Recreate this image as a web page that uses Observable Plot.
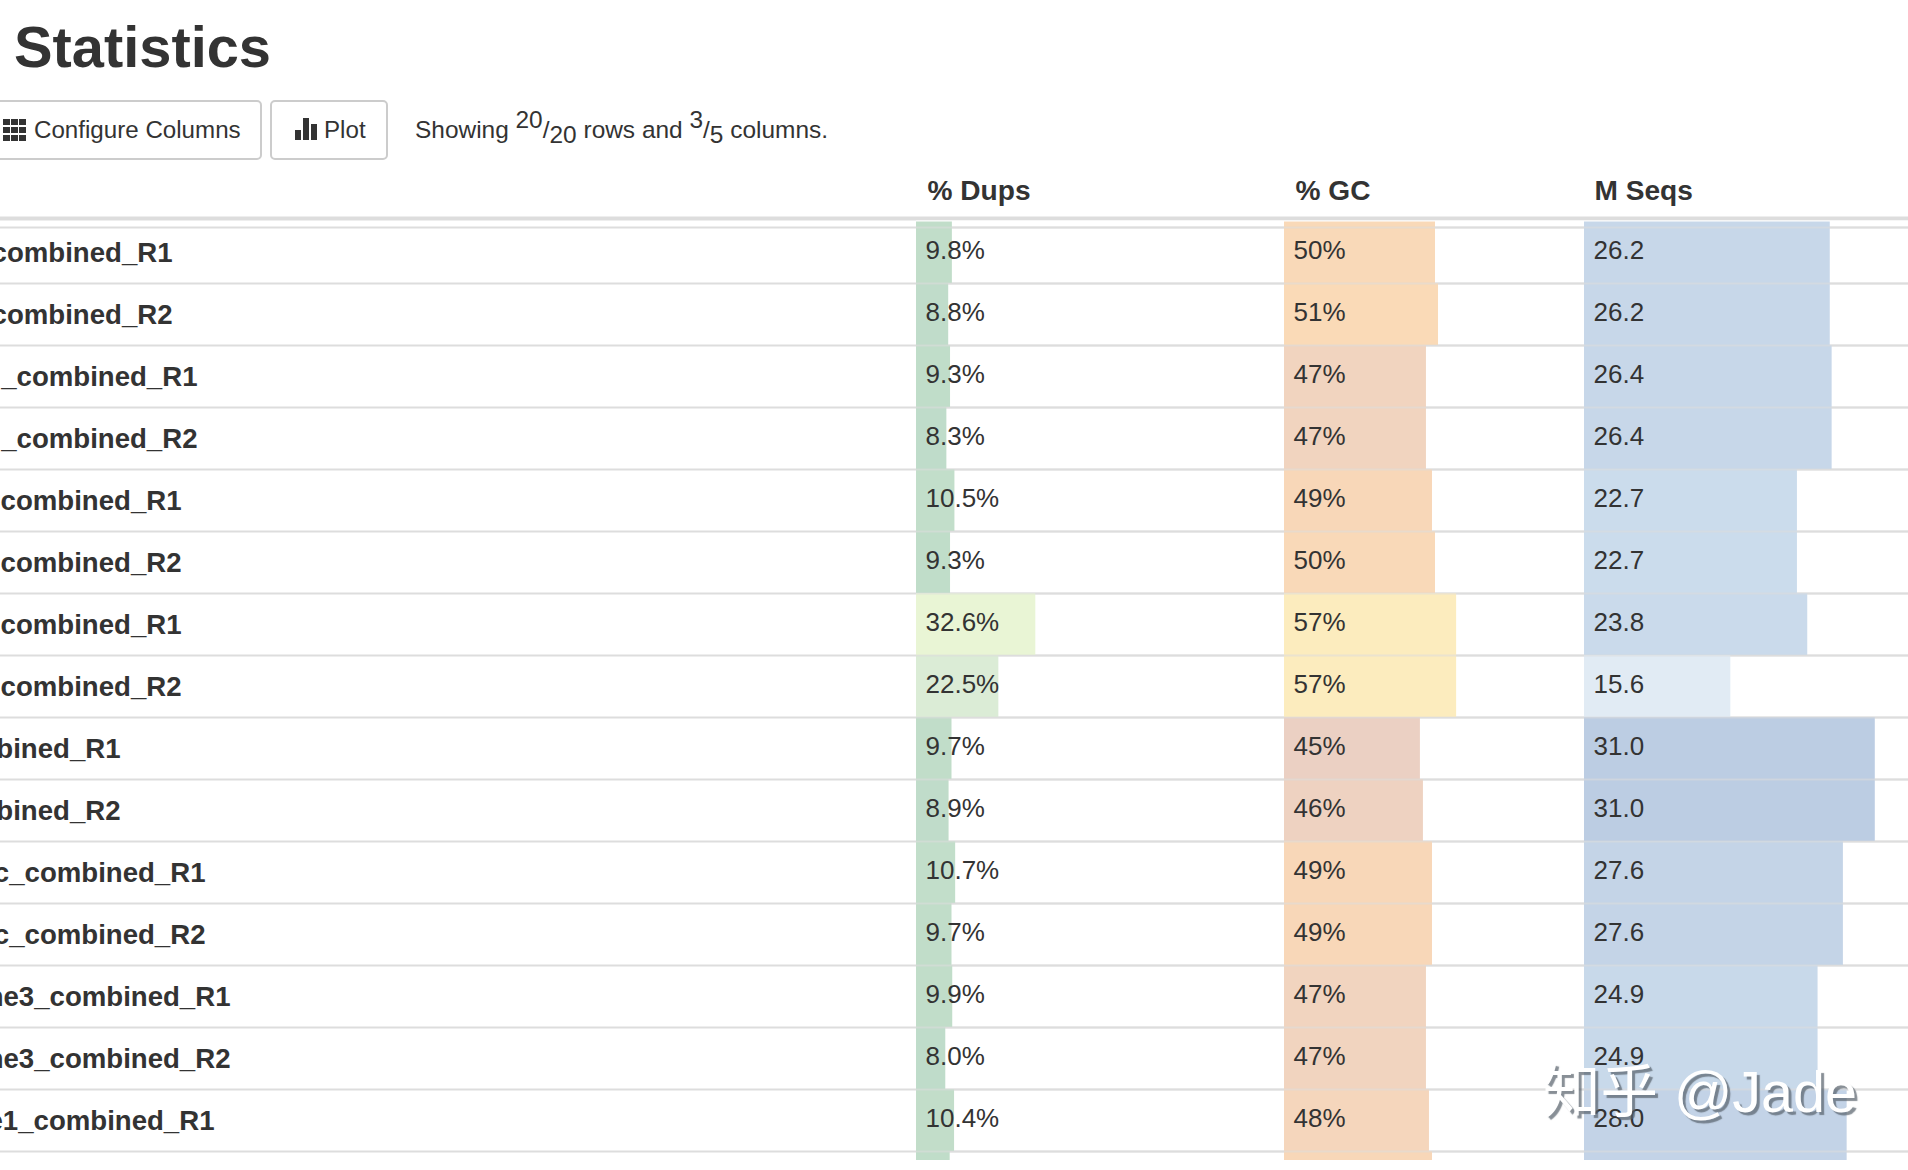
<!DOCTYPE html>
<html>
<head>
<meta charset="utf-8">
<script src="https://cdn.jsdelivr.net/npm/d3@7"></script>
<script src="https://cdn.jsdelivr.net/npm/@observablehq/plot@0.6"></script>
<style>
html,body{margin:0;padding:0;background:#fff;overflow:hidden}
#page{position:relative;width:1908px;height:1170px;overflow:hidden;font-family:"Liberation Sans",Arial,sans-serif;color:#333}
#page svg{position:absolute;top:0}
h1{position:absolute;left:14px;top:14px;margin:0;font-size:57.8px;line-height:66px;font-weight:700;color:#333}
.btn{position:absolute;top:100px;height:56px;border:2px solid #ccc;border-radius:5px;box-sizing:content-box;font-size:24.15px;line-height:56px;background:#fff}
.status{position:absolute;left:415px;top:100px;font-size:24.45px;line-height:59px;white-space:nowrap}
.status .u{position:relative;top:-10px}
.status .d{position:relative;top:5px}
.ico{position:absolute;background:#333}
#mark{position:absolute;left:1543px;top:1048px;font-size:57.5px;line-height:78px;color:#fff;white-space:nowrap;z-index:5;text-shadow:3px 3px 1px rgba(85,95,105,.7)}
#mark .cn{font-family:"Noto Sans CJK SC"}
</style>
</head>
<body>
<div id="page">
  <h1>Statistics</h1>
  <div class="btn" id="b1" style="left:-12px;width:270px"><span style="position:absolute;left:44px;white-space:nowrap">Configure Columns</span></div>
  <div class="btn" id="b2" style="left:270px;width:114px"><span style="position:absolute;left:52px">Plot</span></div>
  <div class="status">Showing <span class="u">20</span>/<span class="d">20</span> rows and <span class="u">3</span>/<span class="d">5</span> columns.</div>
  <div id="mark"><span class="cn">知乎</span> @Jade</div>
</div>
<script>
// ----- data -----
const sampleLabels = [
  "combined_R1", "combined_R2", "_combined_R1", "_combined_R2",
  "combined_R1", "combined_R2", "combined_R1", "combined_R2",
  "bined_R1", "bined_R2", "c_combined_R1", "c_combined_R2",
  "ne3_combined_R1", "ne3_combined_R2", "e1_combined_R1"
];
// where each cropped label ends: the names are cut off by the left edge of the screenshot
const labelEnd = [172, 172, 197, 197, 181, 181, 181, 181, 120, 120, 205, 205, 230, 230, 214];
const dups = [9.8, 8.8, 9.3, 8.3, 10.5, 9.3, 32.6, 22.5, 9.7, 8.9, 10.7, 9.7, 9.9, 8.0, 10.4, 9.2];
const gc   = [50, 51, 47, 47, 49, 50, 57, 57, 45, 46, 49, 49, 47, 47, 48, 49];
const mseqs = [26.2, 26.2, 26.4, 26.4, 22.7, 22.7, 23.8, 15.6, 31.0, 31.0, 27.6, 27.6, 24.9, 24.9, 28.0, 28.0];
const columnTitles = ["% Dups", "% GC", "M Seqs"];

const rowIds = d3.range(dups.length);
const labelled = rowIds.slice(0, sampleLabels.length);
const ROW_TOP = 221, ROW_H = 62, BOTTOM = 1160;
const yScale = {type: "band", domain: rowIds, range: [ROW_TOP, ROW_TOP + ROW_H * rowIds.length], padding: 0, axis: null};

function rules(fill) {
  return [
    Plot.ruleY(rowIds.slice(1), {y: d => d, dy: -ROW_H / 2, stroke: "#ddd", strokeWidth: 2, strokeOpacity: fill}),
    Plot.ruleY([0], {y: d => d, dy: -ROW_H / 2 + 6, stroke: "#ddd", strokeWidth: 2, strokeOpacity: fill})
  ];
}
const headRule = Plot.ruleY([0], {y: d => d, dy: -ROW_H / 2 - 3, stroke: "#ddd", strokeWidth: 4});

function panel(left, width, o) {
  const plot = Plot.plot({
    width, height: BOTTOM, margin: 0,
    x: {domain: o.domain, range: [0, o.pxWidth], axis: null},
    y: yScale,
    color: {type: "linear", domain: o.colorDomain, range: o.colorRange},
    marks: [
      ...rules(1),
      headRule,
      Plot.barX(rowIds, {x: i => o.values[i], y: i => i, fill: i => o.values[i]}),
      ...rules(0.55),
      Plot.ruleY([0], {y: d => d, dy: -ROW_H / 2 - 0.5, stroke: "#fff", strokeWidth: 1}),
      Plot.text(labelled, {
        x: 0, y: i => i, text: i => o.format(o.values[i]), textAnchor: "start",
        dx: 9, dy: -2.2, fontSize: 26, fill: "#333", fontFamily: "Liberation Sans"
      }),
      Plot.text([o.title], {
        frameAnchor: "top-left", dx: o.titleDx, dy: 180, fontSize: 28.1, fontWeight: 700,
        fill: "#333", fontFamily: "Liberation Sans"
      })
    ]
  });
  plot.style.left = left + "px";
  plot.style.background = "transparent";
  document.getElementById("page").insertBefore(plot, document.getElementById("mark"));
}

// label column
const labelPlot = Plot.plot({
  width: 916, height: BOTTOM, margin: 0,
  x: {domain: [0, 916], range: [0, 916], axis: null},
  y: yScale,
  marks: [
    ...rules(1),
    headRule,
    Plot.text(labelled, {
      x: i => labelEnd[i], y: i => i, text: i => sampleLabels[i], textAnchor: "end",
      dy: 0.9, fontSize: 27.6, fontWeight: 700, fill: "#333", fontFamily: "Liberation Sans"
    })
  ]
});
labelPlot.style.left = "0px";
labelPlot.style.background = "transparent";
document.getElementById("page").insertBefore(labelPlot, document.getElementById("mark"));

panel(916, 368, {
  values: dups, domain: [0, 100], pxWidth: 366, title: columnTitles[0], titleDx: 11,
  format: v => d3.format(".1f")(v) + "%",
  colorDomain: [8, 10, 22.5, 32.6], colorRange: ["#bfdcca", "#c1ddc9", "#dbecd6", "#e9f5d5"]
});
panel(1284, 300, {
  values: gc, domain: [0, 100], pxWidth: 302, title: columnTitles[1], titleDx: 11,
  format: v => d3.format(".0f")(v) + "%",
  colorDomain: [45, 47, 49, 51, 57], colorRange: ["#ebd0c3", "#f1d4bf", "#f8d7b8", "#fadab7", "#fcecbe"]
});
panel(1584, 324, {
  values: mseqs, domain: [0, 100], pxWidth: 938, title: columnTitles[2], titleDx: 10,
  format: v => d3.format(".1f")(v),
  colorDomain: [15.6, 22.7, 26.2, 31], colorRange: ["#e1ebf4", "#cbdcec", "#c7d7e9", "#bccde3"]
});

// toolbar glyphs (drawn as simple boxes, like the icon font in the reference)
const page = document.getElementById("page");
function box(x, y, w, h) {
  const e = document.createElement("div");
  e.className = "ico";
  e.style.cssText = `left:${x}px;top:${y}px;width:${w}px;height:${h}px`;
  page.appendChild(e);
}
for (const c of [3, 11, 19]) for (const r of [119, 127, 135]) box(c, r, 6.5, 6);
box(295, 130, 5.5, 10); box(303, 118, 6, 22); box(311, 124, 6, 16);
</script>
</body>
</html>
